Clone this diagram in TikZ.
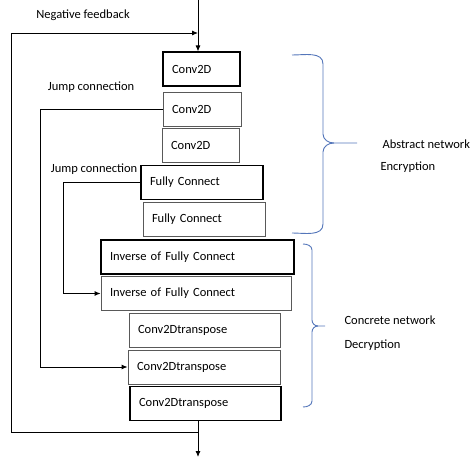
\documentclass[tikz,border=0pt]{standalone}
\usepackage{fontspec}
\setmainfont{Carlito}
\usetikzlibrary{arrows.meta}
\definecolor{bracecol}{RGB}{84,118,186}

\begin{document}
\begin{tikzpicture}[x=1pt,y=-1pt,
		font=\fontsize{12.5}{14}\selectfont,
		box/.style={draw=black,line width=1.1pt,minimum height=34pt,inner xsep=9pt,align=left},
		thinbox/.style={box,draw=black!65,line width=.8pt},
		flow/.style={line width=.9pt,-{Latex[length=6pt,width=5pt]}},
		brace/.style={draw=bracecol,line width=.9pt}]
		\def\xm{198}
		\def\xl{11}
		\def\yf{33}
		\useasboundingbox (0,0) rectangle (474,458);
		% the encryption half
		\node[box,text width=59pt]      (c1) at (201.5,69)  {Conv2D};
		\node[thinbox,text width=60pt]  (c2) at (202,109)   {Conv2D};
		\node[thinbox,text width=59pt]  (c3) at (200.5,145.5) {Conv2D};
		\node[box,text width=104pt]     (f1) at (202,182.5) {Fully Connect};
		\node[thinbox,text width=104pt] (f2) at (204,219.5) {Fully Connect};
		% the decryption half
		\node[box,text width=175pt]     (i1) at (197.5,257) {Inverse of Fully Connect};
		\node[thinbox,text width=172pt] (i2) at (196,293.5) {Inverse of Fully Connect};
		\node[thinbox,text width=133pt] (t1) at (204.5,330) {Conv2Dtranspose};
		\node[thinbox,text width=134pt] (t2) at (204,367)   {Conv2Dtranspose};
		\node[box,text width=133pt]     (t3) at (205.5,403.5) {Conv2Dtranspose};
		% in, out and the loop back
		\coordinate (in)  at (\xm,0);
		\coordinate (top) at (\xm,\yf);
		\coordinate (fb)  at (\xm,432);
		\coordinate (out) at (\xm,457);
		\draw[flow] (in) -- (in |- c1.north);
		\draw[flow] (out |- t3.south) -- (out);
		\draw[flow] (fb) -- (\xl,432) |- (top);
		\node (nf) at (83,15) {Negative feedback};
		% jumps
		\draw[flow] (c2.west) -- ++(-122,0) |- (t2.west);
		\draw[flow] (f1.west) -- ++(-77,0) |- (i2.west);
		\node (jc1) at (91,87)  {Jump connection};
		\node (jc2) at (94,169) {Jump connection};
		% braces
		\draw[brace] (292,55) to[out=0,in=90] (323,64) -- (323,134)
			to[out=-90,in=180] (334,143) -- (357,143);
		\draw[brace] (334,143) to[out=180,in=90] (323,152) -- (323,224)
			to[out=-90,in=0] (292,233);
		\draw[brace] (303,244) to[out=0,in=90] (312,250) -- (312,320)
			to[out=-90,in=180] (318,326) -- (325,326);
		\draw[brace] (318,326) to[out=180,in=90] (312,332) -- (312,401)
			to[out=-90,in=0] (303,407);
		\node[anchor=west] (abs) at (379,144) {Abstract network};
		\node[anchor=west] (enc) at (377,167) {Encryption};
		\node[anchor=west] (con) at (341,320) {Concrete network};
		\node[anchor=west] (dec) at (341,345) {Decryption};
	\end{tikzpicture}
\end{document}
